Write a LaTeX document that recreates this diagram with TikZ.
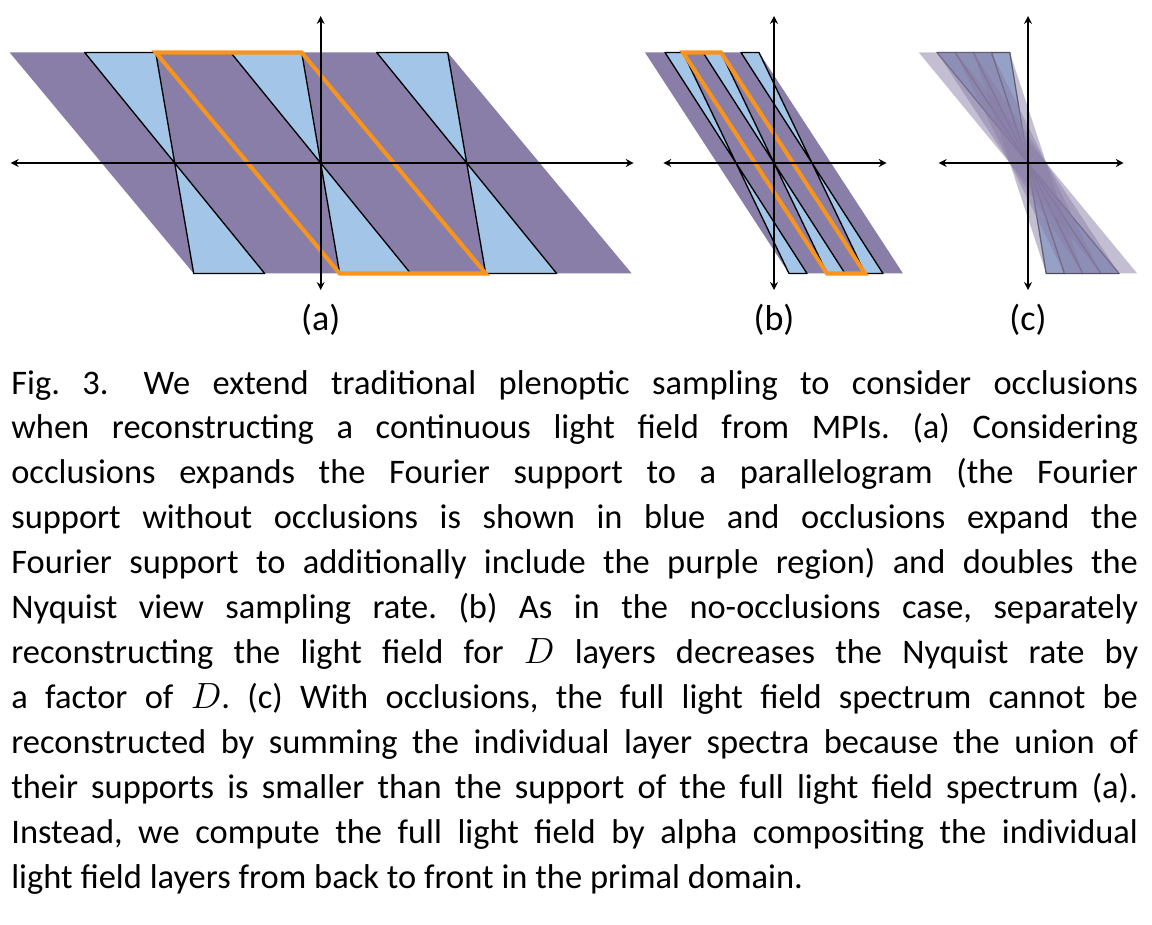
\documentclass[tikz,border=0pt]{standalone}
\usepackage{fontspec}
\setmainfont{Carlito}
\usetikzlibrary{arrows.meta}
\definecolor{lfpurple}{HTML}{897EA7}
\definecolor{lfblue}{HTML}{A2C5E8}
\definecolor{lforange}{HTML}{F7941E}
\newlength\capw
\setlength\capw{22.54cm}
\newcommand\capline[1]{\hbox to \capw{\spaceskip=0.23em plus 1em minus 0.05em\relax #1}}
\frenchspacing

\begin{document}
\begin{tikzpicture}[x=0.02cm, y=0.02cm,
    support/.style={fill=lfpurple},
    spec/.style={fill=lfblue, draw=black, line width=0.75pt, line join=round},
    cell/.style={draw=lforange, line width=2.3pt, line join=miter},
    axis/.style={{Stealth[length=4.5pt,width=4.5pt]}-{Stealth[length=4.5pt,width=4.5pt]}, line width=1.1pt},
    layer/.style={fill=lfpurple, fill opacity=0.5},
    sub/.style={font=\fontsize{20.5}{24}\selectfont, inner sep=0pt}
]
    \useasboundingbox (0,0) rectangle (1152,924);
    \def\hh{110.5}

    % Panels (a) and (b): replicated spectra
    \foreach \cx/\per/\sa/\sb/\axl/\axr in {320.7/146/19/90/310/313, 774/38/53/71/110.7/112.7} {
        \begin{scope}[shift={(\cx,761)}]
            \fill[support] (-2*\per-\sa,\hh) -- (\per-\sa,\hh) -- (2*\per+\sa,-\hh) -- (-\per+\sa,-\hh) -- cycle;
            \foreach \k in {-1,0,1} {
                \draw[spec] (\k*\per,0) -- (\k*\per-\sb,\hh) -- (\k*\per-\sa,\hh) -- cycle;
                \draw[spec] (\k*\per,0) -- (\k*\per+\sa,-\hh) -- (\k*\per+\sb,-\hh) -- cycle;
            }
            \draw[cell] (-\per-\sa,\hh) -- (-\sa,\hh) -- (\per+\sa,-\hh) -- (\sa,-\hh) -- cycle;
            \draw[axis] (-\axl,0) -- (\axr,0);
            \draw[axis] (0,-127) -- (0,147);
        \end{scope}
    }

    % Panel (c): layer spectra
    \begin{scope}[shift={(1028,761)}]
        \foreach \i [evaluate=\i as \tl using -91+18.2*\i, evaluate=\i as \tr using -72.8+18.2*\i] in {0,...,3} {
            \draw[spec, draw=black!75] (0,0) -- (\tl,\hh) -- (\tr,\hh) -- cycle;
            \draw[spec, draw=black!75] (0,0) -- (-\tr,-\hh) -- (-\tl,-\hh) -- cycle;
        }
        \foreach \i [evaluate=\i as \tl using -91+18.2*\i, evaluate=\i as \tr using -72.8+18.2*\i] in {0,...,3} {
            \fill[layer] (2*\tl-\tr,\hh) -- (\tr,\hh) -- (-2*\tl+\tr,-\hh) -- (-\tr,-\hh) -- cycle;
        }
        \draw[axis] (-89.3,0) -- (95.7,0);
        \draw[axis] (0,-127) -- (0,147);
    \end{scope}

    % Sub-labels
    \node[sub] (laba) at (320.7,604) {(a)};
    \node[sub] (labb) at (774,604) {(b)};
    \node[sub] (labc) at (1028,604) {(c)};

    % Caption
    \node[anchor=base west, text width=\capw, inner sep=0pt, font=\fontsize{19.6}{25.6}\selectfont] (caption) at (11,530) {%
        \capline{Fig.~3.\hskip 0.6em plus 1em\relax We extend traditional plenoptic sampling to consider occlusions}
        \capline{when reconstructing a continuous light field from MPIs. (a) Considering}
        \capline{occlusions expands the Fourier support to a parallelogram (the Fourier}
        \capline{support without occlusions is shown in blue and occlusions expand the}
        \capline{Fourier support to additionally include the purple region) and doubles the}
        \capline{Nyquist view sampling rate. (b) As in the no-occlusions case, separately}
        \capline{reconstructing the light field for $D$ layers decreases the Nyquist rate by}
        \capline{a factor of $D$. (c) With occlusions, the full light field spectrum cannot be}
        \capline{reconstructed by summing the individual layer spectra because the union of}
        \capline{their supports is smaller than the support of the full light field spectrum (a).}
        \capline{Instead, we compute the full light field by alpha compositing the individual}
        \capline{light field layers from back to front in the primal domain.\hfil}};
\end{tikzpicture}
\end{document}
